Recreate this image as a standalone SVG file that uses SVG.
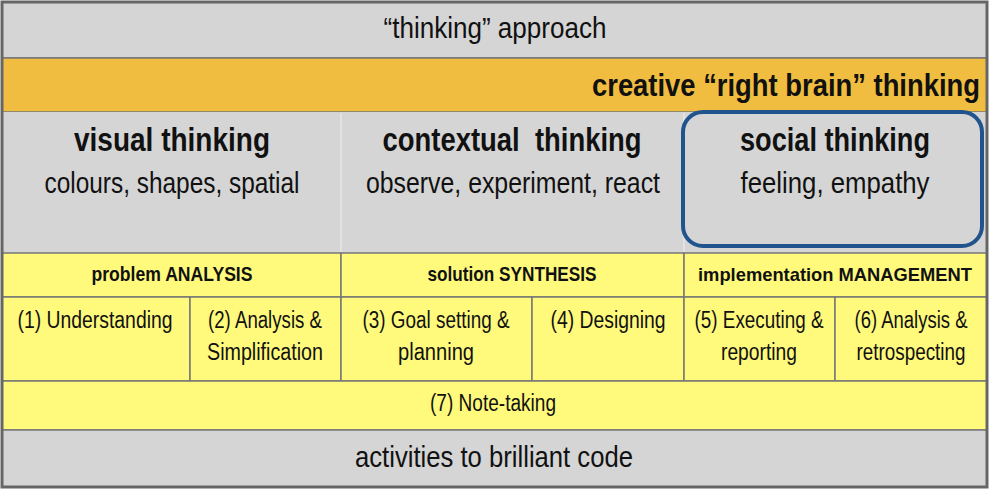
<svg xmlns="http://www.w3.org/2000/svg" width="990" height="490" viewBox="0 0 990 490">
<style>
text{font-family:"Liberation Sans",Arial,sans-serif;fill:#111;text-anchor:middle}
.b{font-weight:bold}
.cell{stroke:#777;stroke-width:1.5}
.gray{fill:#d5d5d5}
.yel{fill:#fffa7c}
</style>
<rect width="990" height="490" fill="#ffffff"/>
<g id="top-row">
<rect class="gray cell" x="2" y="2" width="985" height="56"/>
<text x="495" y="38" font-size="29" textLength="223" lengthAdjust="spacingAndGlyphs">“thinking” approach</text>
</g>
<g id="creative-row">
<rect class="cell" fill="#f0bd40" x="2" y="58" width="985" height="54"/>
<text class="b" x="786" y="96" font-size="32" textLength="388" lengthAdjust="spacingAndGlyphs">creative “right brain” thinking</text>
</g>
<g id="thinking-row">
<rect class="gray" x="2" y="112" width="985" height="141"/>
<line x1="341" y1="113" x2="341" y2="252" stroke="#e6e6e6" stroke-width="1.5"/>
<line x1="684" y1="113" x2="684" y2="252" stroke="#e6e6e6" stroke-width="1.5"/>
</g>
<g id="visual">
<text class="b" x="172" y="151" font-size="34" textLength="196" lengthAdjust="spacingAndGlyphs">visual thinking</text>
<text x="172" y="193" font-size="30" textLength="255" lengthAdjust="spacingAndGlyphs">colours, shapes, spatial</text>
</g>
<g id="contextual">
<text class="b" x="512" y="151" font-size="34" textLength="259" lengthAdjust="spacingAndGlyphs" xml:space="preserve">contextual  thinking</text>
<text x="513" y="193" font-size="30" textLength="294" lengthAdjust="spacingAndGlyphs">observe, experiment, react</text>
</g>
<g id="social">
<rect x="683" y="112" width="299" height="134" rx="20" fill="none" stroke="#21548c" stroke-width="4"/>
<text class="b" x="835" y="151" font-size="34" textLength="190" lengthAdjust="spacingAndGlyphs">social thinking</text>
<text x="835" y="193" font-size="30" textLength="189" lengthAdjust="spacingAndGlyphs">feeling, empathy</text>
</g>
<g id="phase-headers">
<rect class="yel cell" x="2" y="253" width="339" height="44"/>
<rect class="yel cell" x="341" y="253" width="343" height="44"/>
<rect class="yel cell" x="684" y="253" width="303" height="44"/>
<text class="b" x="172" y="281" font-size="21" textLength="161" lengthAdjust="spacingAndGlyphs">problem ANALYSIS</text>
<text class="b" x="512" y="281" font-size="21" textLength="169" lengthAdjust="spacingAndGlyphs">solution SYNTHESIS</text>
<text class="b" x="835" y="281" font-size="19" textLength="274" lengthAdjust="spacingAndGlyphs">implementation MANAGEMENT</text>
</g>
<g id="activities">
<rect class="yel cell" x="2" y="297" width="188" height="84"/>
<rect class="yel cell" x="190" y="297" width="151" height="84"/>
<rect class="yel cell" x="341" y="297" width="191" height="84"/>
<rect class="yel cell" x="532" y="297" width="152" height="84"/>
<rect class="yel cell" x="684" y="297" width="151" height="84"/>
<rect class="yel cell" x="835" y="297" width="152" height="84"/>
<text x="95" y="328" font-size="23" textLength="155" lengthAdjust="spacingAndGlyphs">(1) Understanding</text>
<text x="265" y="328" font-size="23" textLength="114" lengthAdjust="spacingAndGlyphs">(2) Analysis &amp;</text>
<text x="265" y="360" font-size="23" textLength="116" lengthAdjust="spacingAndGlyphs">Simplification</text>
<text x="436" y="328" font-size="23" textLength="147" lengthAdjust="spacingAndGlyphs">(3) Goal setting &amp;</text>
<text x="436" y="360" font-size="23" textLength="76" lengthAdjust="spacingAndGlyphs">planning</text>
<text x="608" y="328" font-size="23" textLength="115" lengthAdjust="spacingAndGlyphs">(4) Designing</text>
<text x="759" y="328" font-size="23" textLength="129" lengthAdjust="spacingAndGlyphs">(5) Executing &amp;</text>
<text x="759" y="360" font-size="23" textLength="76" lengthAdjust="spacingAndGlyphs">reporting</text>
<text x="911" y="328" font-size="23" textLength="113" lengthAdjust="spacingAndGlyphs">(6) Analysis &amp;</text>
<text x="911" y="360" font-size="23" textLength="109" lengthAdjust="spacingAndGlyphs">retrospecting</text>
</g>
<g id="note-taking">
<rect class="yel cell" x="2" y="381" width="985" height="49"/>
<text x="493" y="411" font-size="23" textLength="126" lengthAdjust="spacingAndGlyphs">(7) Note-taking</text>
</g>
<g id="bottom-row">
<rect class="gray cell" x="2" y="430" width="985" height="57"/>
<text x="494" y="467" font-size="29" textLength="278" lengthAdjust="spacingAndGlyphs">activities to brilliant code</text>
</g>
<g id="connectors"></g>
<rect x="2" y="2" width="985" height="485" fill="none" stroke="#666" stroke-width="3"/>
</svg>
